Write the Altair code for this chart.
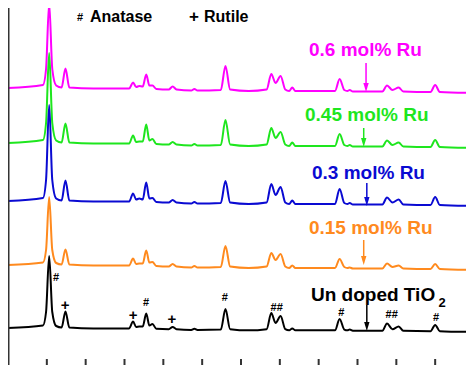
import altair as alt
import pandas as pd

two_theta = [20.0, 24.5, 24.9, 25.3, 25.7, 26.2, 26.9, 27.4, 27.9, 31.0,
             35.6, 36.1, 36.5, 36.9, 37.35, 37.8, 38.2, 38.6, 39.1, 40.7,
             41.2, 41.7, 43.6, 44.0, 44.4, 47.4, 48.0, 48.6, 51.0, 53.3,
             53.9, 54.45, 55.1, 55.7, 56.2, 56.6, 57.0, 62.1, 62.7, 63.3,
             63.7, 64.0, 64.4, 68.2, 68.8, 69.5, 70.3, 70.9, 74.4, 75.0,
             75.6, 80.0]

# slow background drift shared by all patterns (a.u.)
background = [0, 0, 0, 0, 0, -0.5, -0.5, -0.5, -1, -1,
              -1.5, -1.5, -1.5, -1.5, -1.5, -1.5, -1.5, -2, -2, -2,
              -2, -2, -2.5, -2.5, -2.5, -3, -3, -3, -3, -3,
              -3, -3, -3, -3.5, -3.5, -3.5, -3.5, -4, -4, -4,
              -4, -4, -4, -4.5, -4.5, -4.5, -4.5, -4.5, -5, -5,
              -5, -5]

ru_06 = [0, 3, 19, 85, 19, 3, 1, 20, 1.5, 0.5,
         1, 7, 2.5, 3.5, 3, 15, 4, 4.5, 1, 0.5,
         3.5, 0.5, 0, 1.5, 0, 1, 25, 1.5, 0, 1.5,
         17, 8, 15, 2, 0.5, 4, 0.5, 1, 13, 2,
         1, 2, 0.5, 1, 7, 2.5, 5, 1, 1, 8,
         1, 0]
ru_045 = [0, 3, 20, 90, 20, 3, 1, 20, 1.5, 0.5,
          1, 9, 2.5, 3, 3, 20, 4, 6, 1, 0.5,
          3, 0.5, 0, 1.5, 0, 1, 26, 1.5, 0, 1.5,
          18, 8, 14, 2, 0.5, 4, 0.5, 1, 13, 2,
          1, 2, 0.5, 1, 7, 2.5, 5, 1, 1, 8,
          1, 0]
ru_03 = [0, 3, 21, 96, 21, 3, 1, 21, 1.5, 0.5,
         1, 9, 3, 4, 3, 20, 4, 5, 1, 0.5,
         3, 0.5, 0, 1.5, 0, 1, 23, 1.5, 0, 1.5,
         20, 9, 17, 2, 0.5, 4, 0.5, 1, 16, 2,
         1, 2, 0.5, 1, 8, 3, 6, 1, 1, 9,
         1, 0]
ru_015 = [0, 2.5, 15, 68, 15, 2.5, 1, 16, 1.5, 0.5,
          1, 8, 2.5, 3, 3, 16, 4, 5, 1, 0.5,
          3, 0.5, 0, 1.5, 0, 1, 22, 1.5, 0, 1.5,
          15, 8, 14, 2, 0.5, 3, 0.5, 1, 10, 2,
          1, 1.5, 0.5, 1, 6, 2.5, 4, 1, 1, 6,
          1, 0]
undoped = [0, 2.5, 16, 72, 16, 2.5, 1, 17, 1.5, 0.5,
           1, 8, 2.5, 3, 3, 16, 4, 6, 1, 0.5,
           3, 0.5, 0, 1.5, 0, 1, 22, 1.5, 0, 1.5,
           18, 8, 15, 2, 0.5, 3, 0.5, 1, 13, 2,
           1, 2, 0.5, 1, 9, 3, 6, 1, 1, 8,
           1, 0]

series_peaks = [ru_06, ru_045, ru_03, ru_015, undoped]
series_offsets = [287, 232, 174, 110, 47]
series_colors = ["#ff00ff", "#1ee61e", "#0a0ad2", "#ff8a1e", "#000000"]

# labels (left edge in 2theta, vertical centre in a.u.)
label_text = ["0.6 mol% Ru", "0.45 mol% Ru", "0.3 mol% Ru", "0.15 mol% Ru", "Un doped TiO"]
label_x = [58.75, 58.24, 59.14, 58.75, 59.01]
label_y = [325, 260, 202, 147, 80]
subscript_x = [75.9]
subscript_y = [72]

# arrows (2theta, top, tip)
arrow_x = [66.1, 65.8, 66.2, 65.8, 66.2]
arrow_top = [312, 247, 192, 135, 70]
arrow_tip = [283, 228, 169, 110, 44]

# phase markers on the undoped pattern
marker_text = ["#", "+", "+", "#", "+", "#", "##", "#", "##", "#"]
marker_x = [26.2, 27.34, 36.1, 37.77, 41.1, 47.9, 54.6, 62.9, 69.4, 75.1]
marker_y = [97, 70, 60, 72, 56, 77, 67, 62, 60, 57]

# phase legend at the top (text baseline positions)
legend_text = ["#", "Anatase", "+", "Rutile"]
legend_x = [29.27, 30.56, 43.95, 45.24]
legend_y = [354, 353, 353, 353]
legend_size = [11, 16, 17, 16]
legend_align = ["center", "left", "center", "left"]

tick_values = [20, 25, 30, 35, 40, 45, 50, 55, 60, 65, 70, 75]

FONT = "Liberation Sans"
W, H = 458, 357
x_scale = alt.Scale(domain=[20, 78.97], nice=False, zero=False)
y_scale = alt.Scale(domain=[0, 47, 367], range=[H, 320, 0], nice=False, zero=False)

layers = []
for i, (pk, off, col) in enumerate(zip(series_peaks, series_offsets, series_colors)):
    df = pd.DataFrame({
        "two_theta": two_theta,
        "intensity": [off + b + p for b, p in zip(background, pk)],
    })
    if i == 0:
        xax = alt.Axis(labels=False, ticks=False, title=None, grid=False,
                       domainColor="#c8c8c8", domainWidth=3)
        yax = alt.Axis(labels=False, ticks=False, title=None, grid=False, domain=False)
    else:
        xax = None
        yax = None
    layers.append(
        alt.Chart(df).mark_line(color=col, strokeWidth=2, interpolate="monotone", clip=True).encode(
            x=alt.X("two_theta:Q", scale=x_scale, axis=xax),
            y=alt.Y("intensity:Q", scale=y_scale, axis=yax),
        )
    )

# left axis line
layers.append(
    alt.Chart(pd.DataFrame({"two_theta": [tick_values[0]]})).mark_rule(color="#333333", strokeWidth=2).encode(
        x=alt.value(0.5), y=alt.value(0), y2=alt.value(H)
    )
)

ticks_df = pd.DataFrame({"two_theta": tick_values})
layers.append(
    alt.Chart(ticks_df).mark_rule(color="#333333", strokeWidth=2).encode(
        x=alt.X("two_theta:Q", scale=x_scale),
        y=alt.value(H - 6), y2=alt.value(H),
    )
)

arrows_df = pd.DataFrame({
    "x": arrow_x, "top": arrow_top, "tip": arrow_tip,
    "head": [t + 4.5 for t in arrow_tip], "color": series_colors,
})
layers.append(
    alt.Chart(arrows_df).mark_rule(strokeWidth=1.5).encode(
        x=alt.X("x:Q", scale=x_scale),
        y=alt.Y("top:Q", scale=y_scale),
        y2="head:Q",
        color=alt.Color("color:N", scale=None),
    )
)
layers.append(
    alt.Chart(arrows_df).mark_point(shape="M-0.6,-1L0.6,-1L0,1Z", filled=True, size=80, opacity=1).encode(
        x=alt.X("x:Q", scale=x_scale),
        y=alt.Y("head:Q", scale=y_scale),
        color=alt.Color("color:N", scale=None),
    )
)

labels_df = pd.DataFrame({"x": label_x, "y": label_y, "text": label_text, "color": series_colors})
layers.append(
    alt.Chart(labels_df).mark_text(font=FONT, fontSize=19, fontWeight="bold",
                                   align="left", baseline="middle").encode(
        x=alt.X("x:Q", scale=x_scale),
        y=alt.Y("y:Q", scale=y_scale),
        text="text:N",
        color=alt.Color("color:N", scale=None),
    )
)
sub_df = pd.DataFrame({"x": subscript_x, "y": subscript_y, "text": ["2"]})
layers.append(
    alt.Chart(sub_df).mark_text(font=FONT, fontSize=13, fontWeight="bold", color="#000000",
                                align="center", baseline="middle").encode(
        x=alt.X("x:Q", scale=x_scale), y=alt.Y("y:Q", scale=y_scale), text="text:N")
)

markers_df = pd.DataFrame({
    "x": marker_x, "y": marker_y, "text": marker_text,
    "size": [11 if t.startswith("#") else 15 for t in marker_text],
})
layers.append(
    alt.Chart(markers_df).mark_text(font=FONT, fontWeight="bold", color="#000000",
                                    align="center", baseline="middle").encode(
        x=alt.X("x:Q", scale=x_scale), y=alt.Y("y:Q", scale=y_scale), text="text:N",
        size=alt.Size("size:Q", scale=None))
)

for t, lx, ly, ls, la in zip(legend_text, legend_x, legend_y, legend_size, legend_align):
    layers.append(
        alt.Chart(pd.DataFrame({"x": [lx], "y": [ly], "text": [t]})).mark_text(
            font=FONT, fontSize=ls, fontWeight="bold", color="#000000",
            align=la, baseline="alphabetic").encode(
            x=alt.X("x:Q", scale=x_scale), y=alt.Y("y:Q", scale=y_scale), text="text:N")
    )

chart = alt.layer(*layers).properties(
    width=W, height=H, padding=0,
    autosize=alt.AutoSizeParams(type="none"),
).configure_view(stroke=None)

chart.save("out.html", embed_options={"renderer": "svg", "actions": False})
